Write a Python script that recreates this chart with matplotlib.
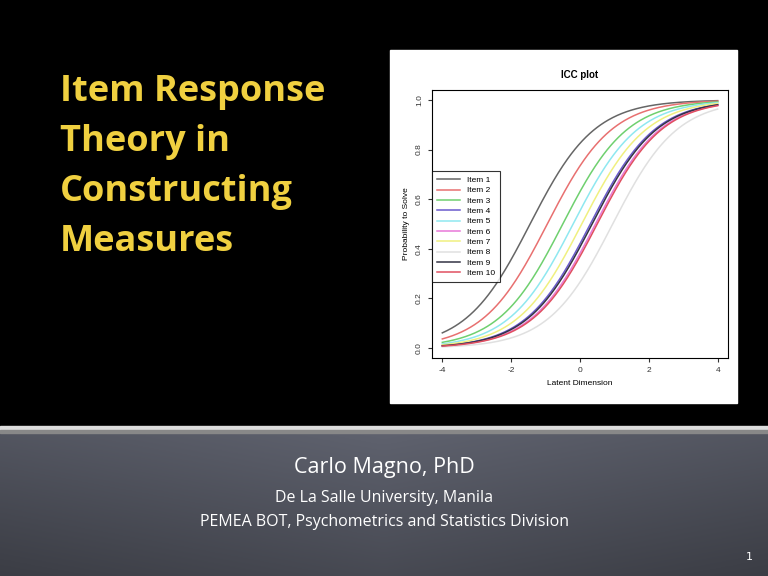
import numpy as np
import matplotlib
matplotlib.use("Agg")
import matplotlib.pyplot as plt
from matplotlib.patches import Rectangle

items = ["Item 1","Item 2","Item 3","Item 4","Item 5","Item 6","Item 7","Item 8","Item 9","Item 10"]
difficulty = [-1.45, -0.95, -0.5, 0.3, -0.2, 0.45, 0.05, 0.95, 0.35, 0.5]
slope = 1.07
colors = ["#666666","#e87070","#6fd06f","#6a5acd","#8fe8f0","#e878d8","#f0f080","#e0e0e0","#333344","#e05060"]

W, H = 768, 576
plt.rcParams["axes.unicode_minus"] = False
fig = plt.figure(figsize=(7.68, 5.76), dpi=100)
fig.patch.set_facecolor("black")
bg = fig.add_axes([0, 0, 1, 1]); bg.axis("off")
yy, xx = np.mgrid[0:1:100j, 0:1:200j]
shade = 0.40 - 0.10*np.abs(xx-0.5) - 0.10*yy
rgb = np.dstack([shade*0.93, shade*0.96, shade*1.08])
bg.imshow(np.clip(rgb, 0, 1), extent=[0, W, H, 433], aspect="auto", zorder=0)
bg.add_patch(Rectangle((0, 426), W, 4, color="#dddddd", zorder=1))
bg.add_patch(Rectangle((0, 430), W, 3, color="#888888", zorder=1))
bg.add_patch(Rectangle((390, 50), 347, 353, color="white", zorder=1))
bg.set_xlim(0, W); bg.set_ylim(H, 0)

for i, line in enumerate(["Item Response", "Theory in", "Constructing", "Measures"]):
    fig.text(60/W, 1 - (92 + 50*i)/H, line, color="#f0d040", fontsize=26, fontweight="bold",
             family="Open Sans", va="center", ha="left")
fig.text(384/W, 1-467/H, "Carlo Magno, PhD", color="white", fontsize=15.5, ha="center", va="center", family="Open Sans")
fig.text(384/W, 1-498/H, "De La Salle University, Manila", color="white", fontsize=11.5, ha="center", va="center", family="Open Sans")
fig.text(384/W, 1-522/H, "PEMEA BOT, Psychometrics and Statistics Division", color="white", fontsize=11.5, ha="center", va="center", family="Open Sans")
fig.text(749/W, 1-557/H, "1", color="white", fontsize=8, ha="center", va="center")

ax = fig.add_axes([432/W, 1-358/H, 296/W, 268/H])
ax.set_facecolor("white")
x = np.linspace(-4, 4, 300)
for name, b, c in zip(items, difficulty, colors):
    ax.plot(x, 1/(1+np.exp(-slope*(x-b))), color=c, lw=1.1, label=name)
ax.set_xlim(-4.3, 4.3); ax.set_ylim(-0.04, 1.04)
ax.set_xticks([-4, -2, 0, 2, 4]); ax.set_yticks([0, 0.2, 0.4, 0.6, 0.8, 1.0])
ax.set_yticklabels(["0.0","0.2","0.4","0.6","0.8","1.0"], rotation=90, va="center")
ax.tick_params(labelsize=6, length=3, colors="#333333")
for lab in ax.get_xticklabels() + ax.get_yticklabels():
    lab.set_family("Liberation Sans")
ax.set_title("ICC plot", fontsize=7, fontweight="bold", pad=9, family="Liberation Sans")
ax.set_xlabel("Latent Dimension", fontsize=6, family="Liberation Sans")
ax.set_ylabel("Probability to Solve", fontsize=6, family="Liberation Sans")
leg = ax.legend(loc="center left", bbox_to_anchor=(0.0, 0.49), prop={"size": 6, "family": "Liberation Sans"},
                frameon=True, fancybox=False, edgecolor="black", handlelength=2.8, labelspacing=0.3,
                borderaxespad=0, borderpad=0.6)
leg.get_frame().set_linewidth(0.8)
fig.savefig("out.png", dpi=100, facecolor="black")
